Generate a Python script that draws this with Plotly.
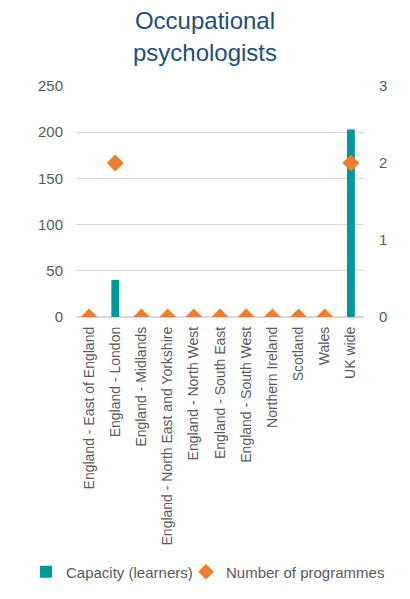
import plotly.graph_objects as go

categories = ["England - East of England", "England - London", "England - Midlands",
              "England - North East and Yorkshire", "England - North West",
              "England - South East", "England - South West", "Northern Ireland",
              "Scotland", "Wales", "UK wide"]
capacity = [0, 40, 0, 0, 0, 0, 0, 0, 0, 0, 203]
programmes = [0, 2, 0, 0, 0, 0, 0, 0, 0, 0, 2]

left_ticks = [0, 50, 100, 150, 200, 250]
right_ticks = [0, 1, 2, 3]

font = "Liberation Sans"
grey = "#595959"

fig = go.Figure()
fig.add_trace(go.Bar(x=categories, y=capacity, name="Capacity (learners)",
                     marker=dict(color="#00999A", line=dict(width=0)), width=0.3, yaxis="y",
                     legend="legend"))
fig.add_trace(go.Scatter(x=categories, y=programmes, name="Number of programmes",
                         mode="markers", marker=dict(symbol="diamond", size=13, color="#ED7D31"),
                         yaxis="y2", legend="legend2"))

legend_common = dict(orientation="h", xanchor="left", xref="container",
                     y=0.045, yanchor="middle", yref="container",
                     font=dict(size=15, color=grey), itemwidth=30,
                     bgcolor="rgba(0,0,0,0)", itemsizing="constant")

fig.update_layout(
    width=410, height=599,
    margin=dict(l=76, r=46, t=86, b=282, autoexpand=False),
    paper_bgcolor="white", plot_bgcolor="white",
    title=dict(text="Occupational<br>psychologists", x=0.5, xanchor="center",
               y=0.951, yanchor="top", yref="container",
               font=dict(family=font, size=24, color="#1F4E79")),
    font=dict(family=font, color=grey),
    xaxis=dict(tickangle=-90, tickfont=dict(size=14, color=grey), showgrid=False,
               showline=False, ticks="", fixedrange=True, automargin=False,
               range=[-0.5, 10.5], ticklabelstandoff=6),
    yaxis=dict(range=[0, 250], tickvals=left_ticks, tickfont=dict(size=15, color=grey),
               gridcolor="#D9D9D9", gridwidth=1, zeroline=True, zerolinecolor="#D9D9D9",
               showline=False, ticks="", ticklabelstandoff=12, automargin=False),
    yaxis2=dict(range=[0, 3], tickvals=right_ticks, overlaying="y", side="right",
                tickfont=dict(size=15, color=grey), showgrid=False, zeroline=False,
                showline=False, ticks="", ticklabelstandoff=14, automargin=False),
    legend=dict(x=26 / 410, **legend_common),
    legend2=dict(x=186 / 410, **legend_common),
    showlegend=True, bargap=0.7,
)

fig.write_html("out.html")
